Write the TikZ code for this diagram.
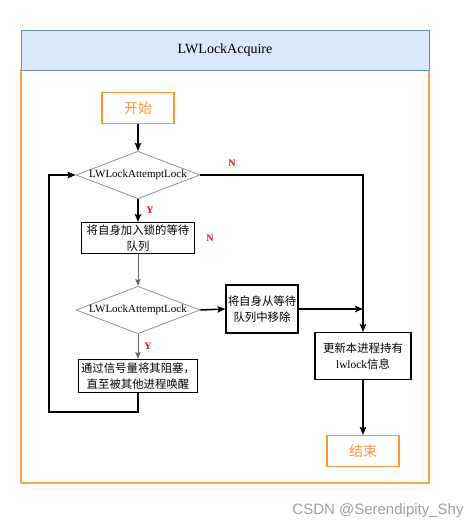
\documentclass[tikz,border=0pt]{standalone}
\usepackage{fontspec}
\setmainfont{Liberation Serif}
\newfontfamily\cjk{Noto Sans CJK SC}
\newfontfamily\wmfont{Liberation Sans}
\usetikzlibrary{shapes.geometric, arrows.meta, positioning}
\definecolor{headBlue}{RGB}{218,232,252}
\definecolor{headEdge}{RGB}{108,142,191}
\definecolor{frameOrange}{RGB}{247,166,80}
\definecolor{termOrange}{RGB}{250,150,60}

\begin{document}
\begin{tikzpicture}[
    x=1pt, y=-1pt,
    every node/.style={font=\fontsize{11}{15}\selectfont},
    proc/.style={rectangle, draw=black, line width=1.2pt, align=center, inner sep=1.5pt, font=\cjk\fontsize{11.4}{16}\selectfont},
    term/.style={rectangle, draw=termOrange, line width=1.2pt, minimum width=72pt, minimum height=31pt, text=termOrange, font=\cjk\fontsize{14}{16}\selectfont},
    decision/.style={diamond, draw=gray!85, line width=0.8pt, aspect=2.6, inner sep=0pt, minimum width=124pt, minimum height=47pt},
    arrow/.style={-{Stealth[length=8pt, width=6.5pt, inset=1.5pt]}, line width=1.5pt},
    thinarrow/.style={-{Stealth[length=7pt, width=5.5pt, inset=1.5pt]}, line width=0.8pt, draw=gray!80!black},
    yn/.style={font=\bfseries\fontsize{10}{12}\selectfont, text=red}
]
\useasboundingbox (0,0) rectangle (474,526);

% Frame and title
\draw[frameOrange, line width=1.3pt] (21,70) rectangle (429,483);
\draw[headEdge, fill=headBlue, line width=0.9pt] (21,30) rectangle (429,70);
\node[font=\fontsize{14}{16}\selectfont] (title) at (225,50) {LWLockAcquire};

% Flow nodes
\node[term] (start) at (138,108) {开始};
\node[decision] (try1) at (138,175) {LWLockAttemptLock};
\node[proc, minimum width=113pt, minimum height=31pt] (enq) at (138,238) {将自身加入锁的等待\\队列};
\node[decision] (try2) at (138,310) {LWLockAttemptLock};
\node[proc, minimum width=119pt, minimum height=33pt] (wait) at (138,376) {通过信号量将其阻塞，\\直至被其他进程唤醒};
\node[proc, minimum width=72pt, minimum height=48pt] (remove) at (262,309) {将自身从等待\\队列中移除};
\node[proc, minimum width=96pt, minimum height=47pt] (update) at (363,356) {更新本进程持有\\{\rmfamily lwlock}信息};
\node[term] (finish) at (363,451) {结束};

% Y / N labels
\node[yn] (n1) at (232,163) {N};
\node[yn] (y1) at (150,210) {Y};
\node[yn] (n2) at (210,238) {N};
\node[yn] (y2) at (148,346) {Y};

% Arrows
\coordinate (loopL) at (49,412);
\draw[arrow] (start) -- (try1);
\draw[arrow] (try1) -- (enq);
\draw[thinarrow] (enq) -- (try2);
\draw[thinarrow] (try2) -- (wait);
\draw[arrow] (wait.south) |- (loopL) |- (try1.west);
\draw[arrow] (try1.east) -| (update.north);
\draw[arrow] (try2.east) -- (remove.west);
\draw[arrow] (remove.east) -- (remove.east -| update.north);
\draw[arrow] (update) -- (finish);

% Watermark
\node[text=gray!75, font=\wmfont\fontsize{15}{18}\selectfont] (mark) at (378,511) {CSDN @Serendipity\_Shy};
\end{tikzpicture}
\end{document}
